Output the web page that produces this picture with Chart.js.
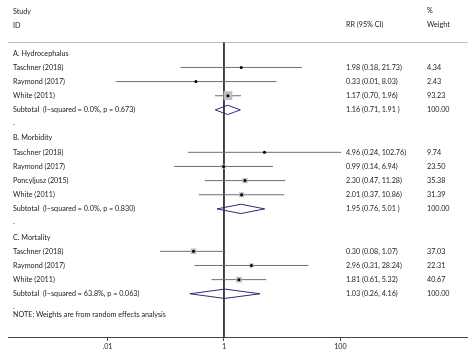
<!DOCTYPE html>
<html>
<head>
<meta charset="utf-8">
<script src="https://cdn.jsdelivr.net/npm/chart.js@4"></script>
<style>
  html, body { margin: 0; padding: 0; background: #fff; }
  canvas { display: block; }
</style>
</head>
<body>
<canvas id="forest" width="474" height="351"></canvas>
<script>
// study rows
const studies = ["Taschner (2018)", "Raymond (2017)", "White (2011)",
  "Taschner (2018)", "Raymond (2017)", "Poncyljusz (2015)", "White (2011)",
  "Taschner (2018)", "Raymond (2017)", "White (2011)"]
const studyRows = [1, 2, 3, 7, 8, 9, 10, 14, 15, 16]
const rr = [1.98, 0.33, 1.17, 4.96, 0.99, 2.30, 2.01, 0.30, 2.96, 1.81]
const ciLow = [0.18, 0.014, 0.70, 0.24, 0.14, 0.47, 0.37, 0.08, 0.31, 0.61]
const ciHigh = [21.73, 8.03, 1.96, 102.76, 6.94, 11.28, 10.86, 1.07, 28.24, 5.32]
const weights = [4.34, 2.43, 93.23, 9.74, 23.50, 35.38, 31.39, 37.03, 22.31, 40.67]

// subgroups
const groups = ["A. Hydrocephalus", "B. Morbidity", "C. Mortality"]
const groupRows = [0, 6, 13]
const subRows = [4, 11, 17]
const subRR = [1.16, 1.95, 1.03]
const subLow = [0.71, 0.76, 0.26]
const subHigh = [1.91, 5.01, 4.16]
const subPad = [" ", " ", ""]
const iSquared = ["0.0", "0.0", "63.8"]
const pHet = ["0.673", "0.830", "0.063"]
const blankRows = [5, 12, 18]

// axis
const tickValues = [0.01, 1, 100]
const tickLabels = [".01", "1", "100"]

const X_MIN = Math.pow(10, -3.709)
const X_MAX = Math.pow(10, 4.188)
const Y_MIN = -3.331
const Y_MAX = 20.056
const SEP_ROW = -0.76

const f2 = v => v.toFixed(2)

const whiskers = studies.map((s, i) => ({
  data: [{ x: ciLow[i], y: studyRows[i] }, { x: ciHigh[i], y: studyRows[i] }],
  showLine: true,
  borderColor: "#707070",
  borderWidth: 1,
  pointRadius: 0
}))

const diamonds = groups.map((g, i) => ({
  data: [
    { x: subLow[i], y: subRows[i] },
    { x: subRR[i], y: subRows[i] - 0.33 },
    { x: subHigh[i], y: subRows[i] },
    { x: subRR[i], y: subRows[i] + 0.33 },
    { x: subLow[i], y: subRows[i] }
  ],
  showLine: true,
  borderColor: "#2b2b80",
  borderWidth: 1,
  pointRadius: 0
}))

const textPlugin = {
  id: "forestText",
  afterDraw(chart) {
    const { ctx, chartArea } = chart
    const y = chart.scales.y
    const left = chartArea.left + 5
    const rrX = chartArea.left + 338
    const wX = chartArea.left + 419
    ctx.save()
    ctx.font = "7.2px Lato"
    ctx.fillStyle = "#222"
    ctx.textBaseline = "middle"
    ctx.textAlign = "left"

    ctx.fillText("Study", left, y.getPixelForValue(-2.91))
    ctx.fillText("ID", left, y.getPixelForValue(-1.98))
    ctx.fillText("%", wX, y.getPixelForValue(-2.98))
    ctx.fillText("RR (95% CI)", rrX, y.getPixelForValue(-2.0))
    ctx.fillText("Weight", wX, y.getPixelForValue(-2.0))

    groups.forEach((g, i) => {
      ctx.fillText(g, left, y.getPixelForValue(groupRows[i]))
      const sy = y.getPixelForValue(subRows[i])
      ctx.fillText("Subtotal  (I\u2212squared = " + iSquared[i] + "%, p = " + pHet[i] + ")", left, sy)
      ctx.fillText(f2(subRR[i]) + " (" + f2(subLow[i]) + ", " + f2(subHigh[i]) + subPad[i] + ")", rrX, sy)
      ctx.fillText("100.00", wX, sy)
    })

    studies.forEach((s, i) => {
      const sy = y.getPixelForValue(studyRows[i])
      ctx.fillText(s, left, sy)
      ctx.fillText(f2(rr[i]) + " (" + f2(ciLow[i]) + ", " + f2(ciHigh[i]) + ")", rrX, sy)
      ctx.fillText(f2(weights[i]), wX, sy)
    })

    blankRows.forEach(r => ctx.fillText(".", left, y.getPixelForValue(r) - 1))
    ctx.fillText("NOTE: Weights are from random effects analysis", left, y.getPixelForValue(18.45))
    ctx.restore()
  }
}

new Chart(document.getElementById("forest"), {
  type: "scatter",
  data: {
    datasets: [
      {
        data: studies.map((s, i) => ({ x: rr[i], y: studyRows[i] })),
        pointStyle: "circle",
        pointRadius: 1.5,
        backgroundColor: "#000",
        borderWidth: 0
      },
      {
        data: studies.map((s, i) => ({ x: rr[i], y: studyRows[i] })),
        pointStyle: "rect",
        pointRadius: ctx => 0.64 * Math.sqrt(weights[ctx.dataIndex]),
        backgroundColor: "#bdbdbd",
        borderWidth: 0
      },
      ...diamonds,
      ...whiskers,
      {
        data: [{ x: 1, y: SEP_ROW }, { x: 1, y: Y_MAX }],
        showLine: true,
        borderColor: "#2a2a2a",
        borderWidth: 1,
        pointRadius: 0
      },
      {
        data: [{ x: X_MIN, y: SEP_ROW }, { x: X_MAX, y: SEP_ROW }],
        showLine: true,
        borderColor: "#bbb",
        borderWidth: 1,
        pointRadius: 0
      }
    ]
  },
  options: {
    responsive: false,
    devicePixelRatio: 1,
    animation: false,
    events: [],
    layout: { padding: { left: 8, right: 4, top: 0, bottom: 0 } },
    plugins: { legend: { display: false }, tooltip: { enabled: false } },
    scales: {
      x: {
        type: "logarithmic",
        min: X_MIN,
        max: X_MAX,
        afterBuildTicks: s => { s.ticks = tickValues.map(v => ({ value: v })) },
        afterFit: s => { s.height = 14 },
        ticks: {
          autoSkip: false,
          maxRotation: 0,
          padding: 1,
          color: "#222",
          font: { family: "Lato", size: 7.2 },
          callback: v => tickLabels[tickValues.indexOf(v)]
        },
        grid: { drawOnChartArea: false, drawTicks: true, tickLength: 4, color: "#444" },
        border: { color: "#444", width: 1 }
      },
      y: {
        type: "linear",
        reverse: true,
        min: Y_MIN,
        max: Y_MAX,
        display: false
      }
    }
  },
  plugins: [textPlugin]
})
</script>
</body>
</html>
